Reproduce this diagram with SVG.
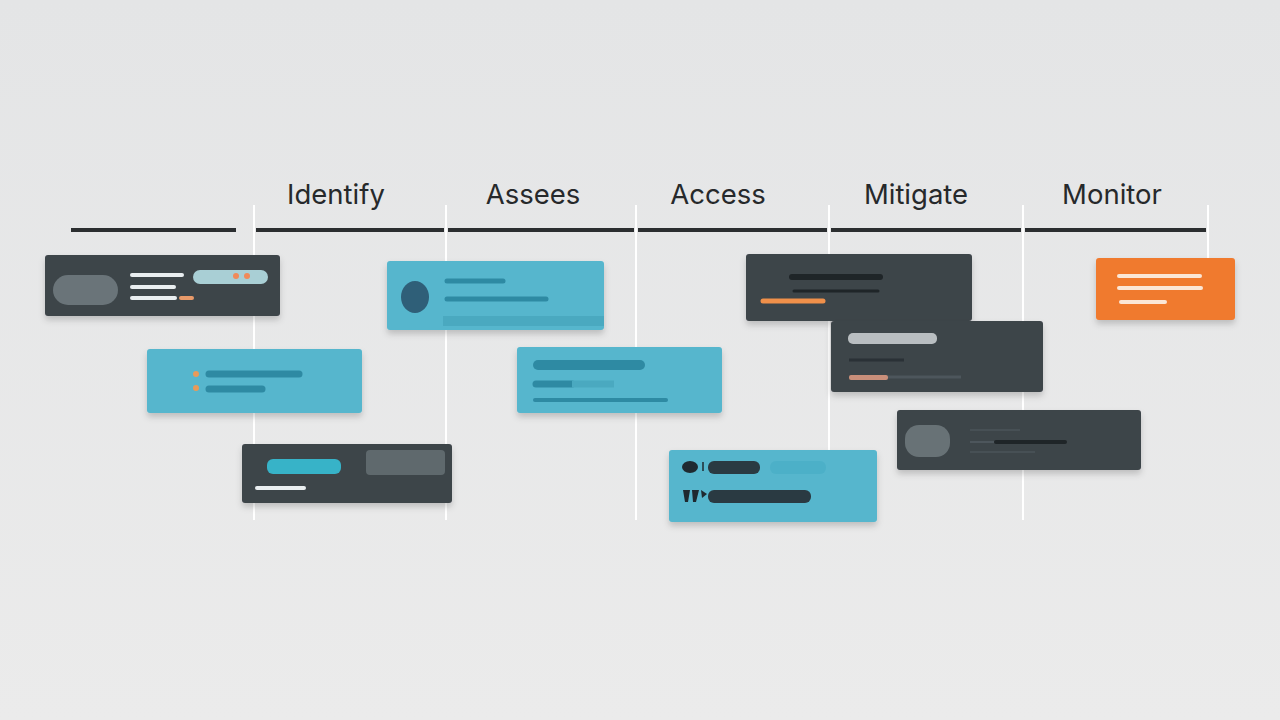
<svg xmlns="http://www.w3.org/2000/svg" width="1280" height="720" viewBox="0 0 1280 720">
<defs>
<linearGradient id="bg" x1="0" y1="0" x2="0" y2="1">
<stop offset="0" stop-color="#e4e5e6"/>
<stop offset="1" stop-color="#ebebeb"/>
</linearGradient>
<filter id="sh" x="-10%" y="-20%" width="120%" height="160%">
<feDropShadow dx="0" dy="4" stdDeviation="3" flood-color="#000" flood-opacity="0.18"/>
</filter>
<style>
.lbl{font-family:"Inter","Liberation Sans",sans-serif;font-size:27.5px;fill:#26292b;text-anchor:middle}
.axis{stroke:#2b2e30;stroke-width:4}
.vl{stroke:#ffffff;stroke-width:2}
.dark{fill:#3d4449}
.teal{fill:#56b6cd}
.orng{fill:#f07a2f}
.wl{stroke:#e9eef0;stroke-linecap:round}
.tl{stroke:#2e8aa3;stroke-linecap:round}
.bl{stroke:#1f2528;stroke-linecap:round}
</style>
</defs>
<rect width="1280" height="720" fill="url(#bg)"/>

<g id="connectors">
<line class="vl" x1="254" y1="205" x2="254" y2="520"/>
<line class="vl" x1="446" y1="205" x2="446" y2="520"/>
<line class="vl" x1="636" y1="205" x2="636" y2="520"/>
<line class="vl" x1="829" y1="205" x2="829" y2="450"/>
<line class="vl" x1="1023" y1="205" x2="1023" y2="520"/>
<line class="vl" x1="1208" y1="205" x2="1208" y2="258"/>
<line class="axis" x1="71" y1="230" x2="236" y2="230"/>
<line class="axis" x1="256" y1="230" x2="444" y2="230"/>
<line class="axis" x1="448" y1="230" x2="634" y2="230"/>
<line class="axis" x1="638" y1="230" x2="827" y2="230"/>
<line class="axis" x1="831" y1="230" x2="1021" y2="230"/>
<line class="axis" x1="1025" y1="230" x2="1206" y2="230"/>
</g>

<g id="labels">
<text class="lbl" x="336" y="204">Identify</text>
<text class="lbl" x="533" y="204">Assees</text>
<text class="lbl" x="718" y="204">Access</text>
<text class="lbl" x="916" y="204">Mitigate</text>
<text class="lbl" x="1112" y="204">Monitor</text>
</g>

<g id="card1">
<rect class="dark" x="45" y="255" width="235" height="61" rx="3" filter="url(#sh)"/>
<rect x="53" y="275" width="65" height="30" rx="15" fill="#6a7479"/>
<line class="wl" x1="132" y1="275" x2="182" y2="275" stroke-width="4"/>
<line class="wl" x1="132" y1="287" x2="174" y2="287" stroke-width="4"/>
<line class="wl" x1="132" y1="298" x2="175" y2="298" stroke-width="4"/>
<line x1="181" y1="298" x2="192" y2="298" stroke="#e89a6a" stroke-width="4" stroke-linecap="round"/>
<rect x="193" y="270" width="75" height="14" rx="7" fill="#a9cfd5"/>
<circle cx="236" cy="276" r="3" fill="#f08a5a"/>
<circle cx="247" cy="276" r="3" fill="#f08a5a"/>
</g>

<g id="card2">
<rect class="teal" x="147" y="349" width="215" height="64" rx="3" filter="url(#sh)"/>
<circle cx="196" cy="374" r="3" fill="#e89a5a"/>
<circle cx="196" cy="388" r="3" fill="#e89a5a"/>
<line class="tl" x1="209" y1="374" x2="299" y2="374" stroke-width="7"/>
<line class="tl" x1="209" y1="389" x2="262" y2="389" stroke-width="7"/>
</g>

<g id="card3">
<rect class="dark" x="242" y="444" width="210" height="59" rx="3" filter="url(#sh)"/>
<rect x="267" y="459" width="74" height="15" rx="6" fill="#37b3c8"/>
<rect x="366" y="450" width="79" height="25" rx="4" fill="#5f696d"/>
<line class="wl" x1="257" y1="488" x2="304" y2="488" stroke-width="4"/>
</g>

<g id="card4">
<rect class="teal" x="387" y="261" width="217" height="69" rx="3" filter="url(#sh)"/>
<rect x="443" y="316" width="161" height="10" fill="#4aa9c0"/>
<ellipse cx="415" cy="297" rx="14" ry="16" fill="#2f5f78"/>
<line class="tl" x1="447" y1="281" x2="503" y2="281" stroke-width="5"/>
<line class="tl" x1="447" y1="299" x2="546" y2="299" stroke-width="5"/>
</g>

<g id="card5">
<rect class="teal" x="517" y="347" width="205" height="66" rx="3" filter="url(#sh)"/>
<line class="tl" x1="538" y1="365" x2="640" y2="365" stroke-width="10"/>
<line class="tl" x1="536" y1="384" x2="572" y2="384" stroke-width="7"/>
<line x1="572" y1="384" x2="614" y2="384" stroke="#4aa9c0" stroke-width="7"/>
<line class="tl" x1="535" y1="400" x2="666" y2="400" stroke-width="4"/>
</g>

<g id="card6">
<rect class="teal" x="669" y="450" width="208" height="72" rx="3" filter="url(#sh)"/>
<ellipse cx="690" cy="467" rx="8" ry="6" fill="#1f2a30"/>
<line x1="703" y1="462" x2="703" y2="471" stroke="#1f2a30" stroke-width="1.5"/>
<rect x="708" y="461" width="52" height="13" rx="6" fill="#2a3a42"/>
<rect x="770" y="461" width="56" height="13" rx="6" fill="#4cb0c8"/>
<path d="M683,490 L690,490 L688,502 L685,502 Z M692,490 L699,490 L696,502 L693,502 Z M701,490 L707,494 L702,498 Z" fill="#1f2a30"/>
<rect x="708" y="490" width="103" height="13" rx="6" fill="#2a3a42"/>
</g>

<g id="card7">
<rect class="dark" x="746" y="254" width="226" height="67" rx="3" filter="url(#sh)"/>
<line class="bl" x1="792" y1="277" x2="880" y2="277" stroke-width="6"/>
<line class="bl" x1="794" y1="291" x2="878" y2="291" stroke-width="3"/>
<line x1="763" y1="301" x2="823" y2="301" stroke="#f0904a" stroke-width="5" stroke-linecap="round"/>
</g>

<g id="card8">
<rect class="dark" x="831" y="321" width="212" height="71" rx="3" filter="url(#sh)"/>
<rect x="848" y="333" width="89" height="11" rx="5" fill="#b9bec1"/>
<line x1="849" y1="360" x2="904" y2="360" stroke="#2a3136" stroke-width="3"/>
<rect x="849" y="375" width="39" height="5" rx="2" fill="#c98f7a"/>
<line x1="888" y1="377" x2="961" y2="377" stroke="#4d565c" stroke-width="3"/>
</g>

<g id="card9">
<rect class="dark" x="897" y="410" width="244" height="60" rx="3" filter="url(#sh)"/>
<rect x="905" y="425" width="45" height="32" rx="14" fill="#687276"/>
<line x1="970" y1="430" x2="1020" y2="430" stroke="#475055" stroke-width="2"/>
<line x1="970" y1="442" x2="994" y2="442" stroke="#4d565c" stroke-width="2"/>
<line class="bl" x1="996" y1="442" x2="1065" y2="442" stroke-width="4"/>
<line x1="970" y1="452" x2="1035" y2="452" stroke="#475055" stroke-width="2"/>
</g>

<g id="card10">
<rect class="orng" x="1096" y="258" width="139" height="62" rx="3" filter="url(#sh)"/>
<line x1="1119" y1="276" x2="1200" y2="276" stroke="#fbe6d6" stroke-width="4" stroke-linecap="round"/>
<line x1="1119" y1="288" x2="1201" y2="288" stroke="#fbe6d6" stroke-width="4" stroke-linecap="round"/>
<line x1="1121" y1="302" x2="1165" y2="302" stroke="#fbe6d6" stroke-width="4" stroke-linecap="round"/>
</g>
</svg>
